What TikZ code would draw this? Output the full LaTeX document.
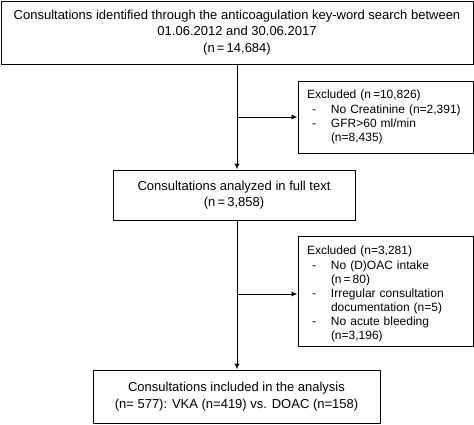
\documentclass[tikz,border=0pt]{standalone}
\usepackage{fontspec}
\setmainfont{Liberation Sans}
\usetikzlibrary{arrows.meta,positioning}
\newcommand{\exitem}{\makebox[24pt][l]{\hspace{5pt}-}}
\tikzset{
  box/.style={draw, line width=1pt, align=center, inner sep=0pt,
    font=\fontsize{13}{16.5}\selectfont},
  exclbox/.style={draw, line width=1pt, align=left, inner xsep=9pt, inner ysep=0pt,
    text width=157pt, minimum width=175pt, font=\fontsize{12}{14.1}\selectfont},
  flow/.style={line width=1pt, -{Latex[length=6pt,width=5pt]}}
}
\begin{document}
\begin{tikzpicture}[x=1pt,y=-1pt]
  \useasboundingbox (0,0) rectangle (474,424);
  % main column
  \node[box, minimum width=472pt, minimum height=63pt] (search) at (237,32.5)
    {Consultations identified through the anticoagulation key-word search between\\
     01.06.2012 and 30.06.2017\\ (n\,=\,14,684)};
  \node[box, minimum width=242pt, minimum height=50pt] (fulltext) at (234,195)
    {Consultations analyzed in full text\\ (n\,=\,3,858)};
  \node[box, minimum width=287pt, minimum height=53pt] (included) at (236.5,396.5)
    {Consultations included in the analysis\\
     (n= 577): VKA (n=419) vs. DOAC (n=158)};
  % exclusions
  \node[exclbox, minimum height=72pt] (excl1) at (385.5,117)
    {Excluded (n\,=10,826)\\
     \exitem No Creatinine (n=2,391)\\
     \exitem GFR>60 ml/min\\
     \hspace*{24pt}(n=8,435)};
  \node[exclbox, minimum height=110pt] (excl2) at (385.5,291)
    {\rule{0pt}{15pt}Excluded (n=3,281)\\
     \exitem No (D)OAC intake\\
     \hspace*{24pt}(n\,=\,80)\\
     \exitem Irregular consultation\\
     \hspace*{24pt}documentation (n=5)\\
     \exitem No acute bleeding\\
     \hspace*{24pt}(n=3,196)};
  % connectors
  \draw[flow] (search.south) -- (fulltext.north -| search.south);
  \draw[flow] (fulltext.south -| search.south) -- (included.north -| search.south);
  \draw[flow] (search.south |- excl1.west) -- (excl1.west);
  \draw[flow] (search.south |- excl2.west) ++(0,3) -- ([yshift=-3pt]excl2.west);
\end{tikzpicture}
\end{document}
